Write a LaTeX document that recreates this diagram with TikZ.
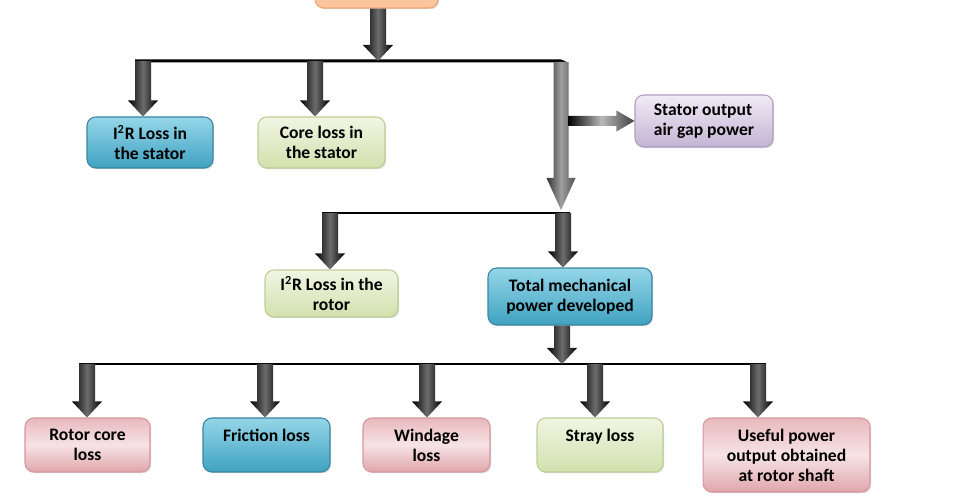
\documentclass[tikz,border=0pt]{standalone}
\usepackage{fontspec}
\setmainfont{Carlito}
\usepackage{xcolor}
\usetikzlibrary{calc,shadows}

\definecolor{bluetop}{HTML}{95D6E9}
\definecolor{bluebot}{HTML}{3FA2C0}
\definecolor{blueedge}{HTML}{3A86A2}
\definecolor{greentop}{HTML}{F1F5E3}
\definecolor{greenbot}{HTML}{D2E1AE}
\definecolor{greenedge}{HTML}{BDCF93}
\definecolor{pinktop}{HTML}{E8B9BD}
\definecolor{pinkmid}{HTML}{F6E3E5}
\definecolor{pinkbot}{HTML}{E0A6AB}
\definecolor{pinkedge}{HTML}{D7979D}
\definecolor{purpletop}{HTML}{F0EBF5}
\definecolor{purplebot}{HTML}{C4B4D4}
\definecolor{purpleedge}{HTML}{B09DC3}
\definecolor{orangefill}{HTML}{FBC59D}
\definecolor{orangeedge}{HTML}{EFA672}

\tikzset{
  box/.style={draw, rounded corners=5pt, line width=0.6pt, align=center, inner sep=2pt,
    font=\bfseries\fontsize{10}{11.4}\selectfont,
    drop shadow={shadow xshift=0.7pt, shadow yshift=-0.7pt, opacity=0.3}},
  bluebox/.style={box, draw=blueedge, top color=bluetop, bottom color=bluebot},
  greenbox/.style={box, draw=greenedge, top color=greentop, bottom color=greenbot},
  pinkbox/.style={box, draw=pinkedge, top color=pinktop, bottom color=pinkbot, middle color=pinkmid},
  purplebox/.style={box, draw=purpleedge, top color=purpletop, bottom color=purplebot},
  orangebox/.style={box, draw=orangeedge, fill=orangefill},
  bus/.style={line width=1.7pt, black},
  blackarrow/.style={left color=black, right color=black, middle color=gray!85!black},
  greyarrow/.style={left color=black!80, right color=black!70, middle color=gray!75},
  sidearrow/.style={left color=black, right color=gray!50!black, middle color=gray!55}
}

% fat arrow pointing down, from the height of #2 to the tip #3
\newcommand{\fatdown}[3][blackarrow]{%
  \shade[#1] ($(#2 -| #3)+(-8,0)$) -- ($(#2 -| #3)+(8,0)$) -- ($(#3)+(8,-16)$)
    -- ($(#3)+(15,-16)$) -- (#3) -- ($(#3)+(-15,-16)$) -- ($(#3)+(-8,-16)$) -- cycle;}

\begin{document}
\begin{tikzpicture}[x=0.02cm,y=-0.02cm]
	\useasboundingbox (0,0) rectangle (956,502);
	%
	\node[orangebox, minimum width=2.46cm, minimum height=0.92cm] (src) at (376.5,-15) {};
	\node[bluebox, minimum width=2.52cm, minimum height=1.02cm] (iRs) at (150,142.5) {I\textsuperscript{2}R Loss in\\the stator};
	\node[greenbox, minimum width=2.54cm, minimum height=1.02cm] (cores) at (321.5,142.5) {Core loss in\\the stator};
	\node[purplebox, minimum width=2.76cm, minimum height=1.04cm, align=left] (gap) at (704,121) {Stator output\\air gap power};
	\node[greenbox, minimum width=2.66cm, minimum height=0.94cm] (iRr) at (331.5,293.5) {I\textsuperscript{2}R Loss in the\\rotor};
	\node[bluebox, minimum width=3.28cm, minimum height=1.14cm] (mech) at (570,296.5) {Total mechanical\\power developed};
	\node[pinkbox, minimum width=2.5cm, minimum height=1.08cm] (rcore) at (87.5,445) {Rotor core\\loss};
	\node[bluebox, minimum width=2.54cm, minimum height=1.08cm] (fric) at (266.5,445) {Friction loss\\\mbox{}};
	\node[pinkbox, minimum width=2.54cm, minimum height=1.08cm] (wind) at (426.5,445) {Windage\\loss};
	\node[greenbox, minimum width=2.52cm, minimum height=1.08cm] (stray) at (600,445) {Stray loss\\\mbox{}};
	\node[pinkbox, minimum width=3.34cm, minimum height=1.48cm] (useful) at (786.5,455) {Useful power\\output obtained\\at rotor shaft};
	%
	\coordinate (b1w) at (135,61);
	\coordinate (b1e) at (566,61);
	\coordinate (b2w) at (322,213);
	\coordinate (b2e) at (570,213);
	\coordinate (b3w) at (79,364);
	\coordinate (b3e) at (766,364);
	\coordinate (j1) at (378,61);
	\coordinate (j2) at (561,210);
	\coordinate (j3) at (562,364);
	\coordinate (g0) at (568,117);
	\coordinate (g1) at (gap.west);
	%
	\coordinate (t1) at ($(iRs.north)+(-7,0)$);
	\coordinate (t2) at ($(cores.north)+(-6.5,0)$);
	\coordinate (t3) at ($(iRr.north)+(-1.5,0)$);
	\coordinate (t4) at ($(mech.north)+(-7,0)$);
	\coordinate (t5) at ($(rcore.north)+(-0.5,0)$);
	\coordinate (t6) at ($(fric.north)+(-1.5,0)$);
	\coordinate (t7) at ($(wind.north)+(0.5,0)$);
	\coordinate (t8) at ($(stray.north)+(-5,0)$);
	\coordinate (t9) at ($(useful.north)+(-28.5,0)$);
	%
	\draw[bus, rounded corners=3pt] (b1w) -- (b1e) -- ++(0,6);
	\draw[bus] (b2w) -- (b2e);
	\draw[bus] (b3w) -- (b3e);
	%
	\fatdown{src.south}{j1}
	\fatdown{b1w}{t1}
	\fatdown{b1w}{t2}
	\shade[greyarrow] ($(b1e -| j2)+(-7.5,1)$) -- ($(b1e -| j2)+(7.5,1)$) -- ($(j2)+(7.5,-32)$)
		-- ($(j2)+(14.5,-32)$) -- (j2) -- ($(j2)+(-14.5,-32)$) -- ($(j2)+(-7.5,-32)$) -- cycle;
	\shade[sidearrow] ($(g0 |- g1)+(0,-5)$) -- ($(g1)+(-18,-5)$) -- ($(g1)+(-18,-10.5)$) -- (g1)
		-- ($(g1)+(-18,10.5)$) -- ($(g1)+(-18,5)$) -- ($(g0 |- g1)+(0,5)$) -- cycle;
	\fatdown{b2w}{t3}
	\fatdown{b2w}{t4}
	\fatdown{mech.south}{j3}
	\fatdown{b3w}{t5}
	\fatdown{b3w}{t6}
	\fatdown{b3w}{t7}
	\fatdown{b3w}{t8}
	\fatdown{b3w}{t9}
\end{tikzpicture}
\end{document}
